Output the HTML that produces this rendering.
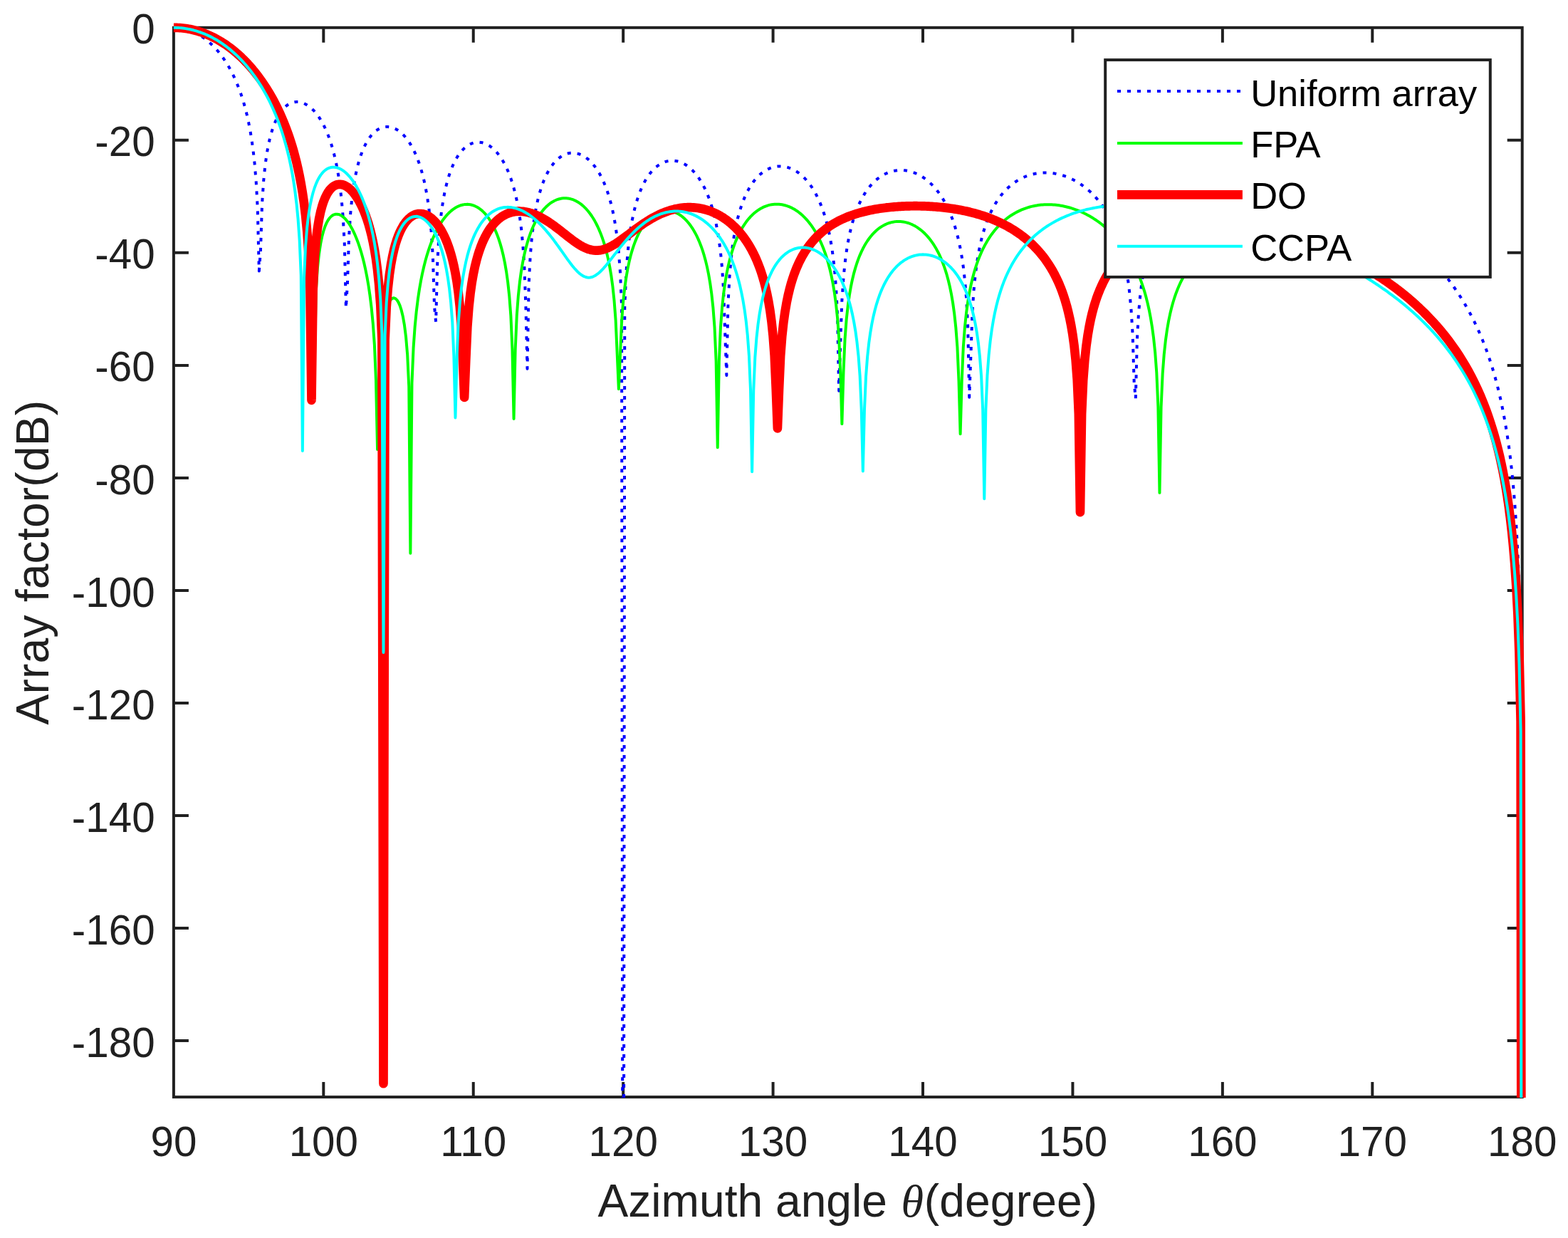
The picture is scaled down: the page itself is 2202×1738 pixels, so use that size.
<!DOCTYPE html>
<html lang="en"><head><meta charset="utf-8"><title>Array factor</title>
<style>html,body{margin:0;padding:0;background:#fff}body{width:2202px;height:1738px;overflow:hidden}svg{display:block}text{font-family:"Liberation Sans",Arial,Helvetica,sans-serif}.t{font-size:58.33px;fill:#202020}.l{font-size:64.17px;fill:#202020}.g{font-size:52.50px;fill:#000}.c{fill:none;stroke-linejoin:round;stroke-linecap:butt}</style></head><body>
<svg width="2202" height="1738" viewBox="0 0 2202 1738">
<rect x="0" y="0" width="2202" height="1738" fill="#fff"/>
<g stroke="#202020" stroke-width="4.00" fill="none" stroke-linecap="butt" stroke-linejoin="miter"><rect x="243.90" y="38.80" width="1893.80" height="1501.30" fill="none"/><path d="M454.32 1540.10 V1519.10 M454.32 38.80 V59.80 M664.74 1540.10 V1519.10 M664.74 38.80 V59.80 M875.17 1540.10 V1519.10 M875.17 38.80 V59.80 M1085.59 1540.10 V1519.10 M1085.59 38.80 V59.80 M1296.01 1540.10 V1519.10 M1296.01 38.80 V59.80 M1506.43 1540.10 V1519.10 M1506.43 38.80 V59.80 M1716.86 1540.10 V1519.10 M1716.86 38.80 V59.80 M1927.28 1540.10 V1519.10 M1927.28 38.80 V59.80 M243.90 1461.08 H264.90 M2137.70 1461.08 H2116.70 M243.90 1303.05 H264.90 M2137.70 1303.05 H2116.70 M243.90 1145.02 H264.90 M2137.70 1145.02 H2116.70 M243.90 986.99 H264.90 M2137.70 986.99 H2116.70 M243.90 828.96 H264.90 M2137.70 828.96 H2116.70 M243.90 670.93 H264.90 M2137.70 670.93 H2116.70 M243.90 512.89 H264.90 M2137.70 512.89 H2116.70 M243.90 354.86 H264.90 M2137.70 354.86 H2116.70 M243.90 196.83 H264.90 M2137.70 196.83 H2116.70"/></g>
<text class="t" x="243.90" y="1622.60" text-anchor="middle">90</text><text class="t" x="454.32" y="1622.60" text-anchor="middle">100</text><text class="t" x="664.74" y="1622.60" text-anchor="middle">110</text><text class="t" x="875.17" y="1622.60" text-anchor="middle">120</text><text class="t" x="1085.59" y="1622.60" text-anchor="middle">130</text><text class="t" x="1296.01" y="1622.60" text-anchor="middle">140</text><text class="t" x="1506.43" y="1622.60" text-anchor="middle">150</text><text class="t" x="1716.86" y="1622.60" text-anchor="middle">160</text><text class="t" x="1927.28" y="1622.60" text-anchor="middle">170</text><text class="t" x="2137.70" y="1622.60" text-anchor="middle">180</text><text class="t" x="217.60" y="61.40" text-anchor="end">0</text><text class="t" x="217.60" y="219.43" text-anchor="end">-20</text><text class="t" x="217.60" y="377.46" text-anchor="end">-40</text><text class="t" x="217.60" y="535.49" text-anchor="end">-60</text><text class="t" x="217.60" y="693.53" text-anchor="end">-80</text><text class="t" x="217.60" y="851.56" text-anchor="end">-100</text><text class="t" x="217.60" y="1009.59" text-anchor="end">-120</text><text class="t" x="217.60" y="1167.62" text-anchor="end">-140</text><text class="t" x="217.60" y="1325.65" text-anchor="end">-160</text><text class="t" x="217.60" y="1483.68" text-anchor="end">-180</text>
<text class="l" x="1190.40" y="1707.60" text-anchor="middle">Azimuth angle <tspan dx="1.6" font-family="'Liberation Serif','DejaVu Serif',serif" font-style="italic">θ</tspan><tspan dx="0.8" letter-spacing="0.15">(degree)</tspan></text>
<text class="l" transform="translate(67.90 1017.60) rotate(-90)" letter-spacing="0.2">Array factor(dB)</text>
<path class="c" d="M243.90 38.80 L246.00 38.83 L248.11 38.94 L250.21 39.11 L252.32 39.35 L254.42 39.66 L256.53 40.04 L258.63 40.49 L260.73 41.01 L262.84 41.60 L264.94 42.27 L267.05 43.00 L269.15 43.81 L271.25 44.70 L273.36 45.66 L275.46 46.70 L277.57 47.82 L279.67 49.02 L281.78 50.30 L283.88 51.66 L285.98 53.11 L288.09 54.65 L290.19 56.29 L292.30 58.01 L294.40 59.83 L296.51 61.76 L298.61 63.79 L300.71 65.92 L302.82 68.17 L304.92 70.54 L307.03 73.03 L309.13 75.66 L311.24 78.42 L313.34 81.32 L315.44 84.39 L317.55 87.61 L319.65 91.01 L321.76 94.60 L323.86 98.40 L325.96 102.42 L328.07 106.68 L330.17 111.20 L332.28 116.03 L334.38 121.18 L336.49 126.71 L338.59 132.66 L340.69 139.10 L342.80 146.12 L344.90 153.81 L347.01 162.33 L349.11 171.88 L351.22 182.73 L353.32 195.33 L355.42 210.37 L357.53 229.12 L359.63 254.15 L361.74 292.41 L363.84 380.56 L365.94 351.55 L368.05 286.06 L370.15 254.16 L372.26 233.23 L374.36 217.83 L376.47 205.79 L378.57 196.02 L380.67 187.89 L382.78 181.01 L384.88 175.12 L386.99 170.03 L389.09 165.62 L391.20 161.77 L393.30 158.41 L395.40 155.49 L397.51 152.96 L399.61 150.77 L401.72 148.90 L403.82 147.32 L405.93 146.02 L408.03 144.96 L410.13 144.14 L412.24 143.55 L414.34 143.18 L416.45 143.02 L418.55 143.06 L420.65 143.29 L422.76 143.73 L424.86 144.36 L426.97 145.17 L429.07 146.19 L431.18 147.39 L433.28 148.80 L435.38 150.40 L437.49 152.21 L439.59 154.23 L441.70 156.48 L443.80 158.96 L445.91 161.68 L448.01 164.66 L450.11 167.92 L452.22 171.49 L454.32 175.38 L456.43 179.63 L458.53 184.29 L460.63 189.40 L462.74 195.02 L464.84 201.24 L466.95 208.17 L469.05 215.95 L471.16 224.78 L473.26 234.95 L475.36 246.89 L477.47 261.32 L479.57 279.50 L481.68 304.07 L483.78 342.16 L485.89 432.58 L487.99 396.52 L490.09 331.96 L492.20 299.84 L494.30 278.49 L496.41 262.63 L498.51 250.10 L500.62 239.83 L502.72 231.21 L504.82 223.84 L506.93 217.46 L509.03 211.89 L511.14 206.99 L513.24 202.67 L515.34 198.85 L517.45 195.46 L519.55 192.47 L521.66 189.83 L523.76 187.51 L525.87 185.49 L527.97 183.74 L530.07 182.24 L532.18 180.99 L534.28 179.97 L536.39 179.17 L538.49 178.57 L540.60 178.18 L542.70 177.99 L544.80 178.00 L546.91 178.20 L549.01 178.58 L551.12 179.16 L553.22 179.93 L555.32 180.89 L557.43 182.04 L559.53 183.40 L561.64 184.96 L563.74 186.73 L565.85 188.72 L567.95 190.94 L570.05 193.40 L572.16 196.12 L574.26 199.11 L576.37 202.40 L578.47 206.02 L580.58 209.98 L582.68 214.34 L584.78 219.15 L586.89 224.45 L588.99 230.33 L591.10 236.90 L593.20 244.28 L595.31 252.67 L597.41 262.32 L599.51 273.64 L601.62 287.27 L603.72 304.32 L605.83 327.02 L607.93 360.98 L610.03 430.37 L612.14 451.77 L614.24 369.05 L616.35 333.03 L618.45 309.87 L620.56 292.89 L622.66 279.57 L624.76 268.69 L626.87 259.55 L628.97 251.72 L631.08 244.94 L633.18 238.99 L635.29 233.74 L637.39 229.09 L639.49 224.94 L641.60 221.24 L643.70 217.94 L645.81 215.00 L647.91 212.38 L650.01 210.06 L652.12 208.01 L654.22 206.21 L656.33 204.66 L658.43 203.33 L660.54 202.22 L662.64 201.31 L664.74 200.61 L666.85 200.09 L668.95 199.77 L671.06 199.63 L673.16 199.67 L675.27 199.89 L677.37 200.29 L679.47 200.87 L681.58 201.63 L683.68 202.57 L685.79 203.70 L687.89 205.02 L690.00 206.54 L692.10 208.26 L694.20 210.19 L696.31 212.34 L698.41 214.73 L700.52 217.36 L702.62 220.26 L704.72 223.45 L706.83 226.95 L708.93 230.79 L711.04 235.01 L713.14 239.66 L715.25 244.80 L717.35 250.49 L719.45 256.84 L721.56 263.96 L723.66 272.05 L725.77 281.33 L727.87 292.19 L729.98 305.18 L732.08 321.30 L734.18 342.46 L736.29 373.17 L738.39 429.90 L740.50 517.73 L742.60 400.01 L744.70 359.23 L746.81 334.11 L748.91 316.01 L751.02 301.94 L753.12 290.49 L755.23 280.90 L757.33 272.70 L759.43 265.57 L761.54 259.32 L763.64 253.78 L765.75 248.86 L767.85 244.45 L769.96 240.49 L772.06 236.94 L774.16 233.75 L776.27 230.88 L778.37 228.30 L780.48 226.00 L782.58 223.95 L784.69 222.13 L786.79 220.54 L788.89 219.16 L791.00 217.97 L793.10 216.98 L795.21 216.17 L797.31 215.53 L799.41 215.08 L801.52 214.79 L803.62 214.67 L805.73 214.71 L807.83 214.92 L809.94 215.29 L812.04 215.82 L814.14 216.52 L816.25 217.39 L818.35 218.42 L820.46 219.63 L822.56 221.02 L824.67 222.59 L826.77 224.36 L828.87 226.32 L830.98 228.50 L833.08 230.90 L835.19 233.53 L837.29 236.42 L839.39 239.58 L841.50 243.05 L843.60 246.84 L845.71 250.99 L847.81 255.56 L849.92 260.59 L852.02 266.15 L854.12 272.34 L856.23 279.27 L858.33 287.11 L860.44 296.08 L862.54 306.53 L864.65 318.95 L866.75 334.24 L868.85 354.00 L870.96 381.90 L873.06 429.59 L874.22 1540.97 M876.11 1540.97 L877.27 429.99 L879.38 382.69 L881.48 355.18 L883.58 335.81 L885.69 320.92 L887.79 308.89 L889.90 298.83 L892.00 290.25 L894.10 282.79 L896.21 276.24 L898.31 270.43 L900.42 265.24 L902.52 260.58 L904.63 256.38 L906.73 252.59 L908.83 249.15 L910.94 246.04 L913.04 243.22 L915.15 240.67 L917.25 238.37 L919.36 236.29 L921.46 234.44 L923.56 232.78 L925.67 231.31 L927.77 230.03 L929.88 228.91 L931.98 227.97 L934.08 227.19 L936.19 226.56 L938.29 226.09 L940.40 225.76 L942.50 225.58 L944.61 225.55 L946.71 225.66 L948.81 225.91 L950.92 226.31 L953.02 226.85 L955.13 227.53 L957.23 228.36 L959.34 229.34 L961.44 230.48 L963.54 231.77 L965.65 233.22 L967.75 234.84 L969.86 236.63 L971.96 238.60 L974.07 240.77 L976.17 243.14 L978.27 245.73 L980.38 248.55 L982.48 251.62 L984.59 254.96 L986.69 258.60 L988.79 262.57 L990.90 266.90 L993.00 271.66 L995.11 276.89 L997.21 282.67 L999.32 289.10 L1001.42 296.31 L1003.52 304.48 L1005.63 313.86 L1007.73 324.84 L1009.84 338.01 L1011.94 354.40 L1014.05 376.05 L1016.15 407.87 L1018.25 468.93 L1020.36 526.89 L1022.46 426.62 L1024.57 387.72 L1026.67 363.23 L1028.77 345.39 L1030.88 331.40 L1032.98 319.94 L1035.09 310.28 L1037.19 301.96 L1039.30 294.69 L1041.40 288.26 L1043.50 282.52 L1045.61 277.37 L1047.71 272.71 L1049.82 268.49 L1051.92 264.65 L1054.03 261.14 L1056.13 257.95 L1058.23 255.02 L1060.34 252.35 L1062.44 249.91 L1064.55 247.68 L1066.65 245.65 L1068.76 243.81 L1070.86 242.15 L1072.96 240.65 L1075.07 239.31 L1077.17 238.12 L1079.28 237.07 L1081.38 236.17 L1083.48 235.40 L1085.59 234.76 L1087.69 234.25 L1089.80 233.86 L1091.90 233.60 L1094.01 233.46 L1096.11 233.44 L1098.21 233.53 L1100.32 233.75 L1102.42 234.08 L1104.53 234.54 L1106.63 235.11 L1108.74 235.80 L1110.84 236.62 L1112.94 237.56 L1115.05 238.62 L1117.15 239.82 L1119.26 241.15 L1121.36 242.62 L1123.46 244.23 L1125.57 245.99 L1127.67 247.91 L1129.78 249.99 L1131.88 252.24 L1133.99 254.68 L1136.09 257.31 L1138.19 260.16 L1140.30 263.23 L1142.40 266.56 L1144.51 270.15 L1146.61 274.05 L1148.72 278.28 L1150.82 282.88 L1152.92 287.92 L1155.03 293.46 L1157.13 299.57 L1159.24 306.38 L1161.34 314.03 L1163.45 322.72 L1165.55 332.76 L1167.65 344.61 L1169.76 359.01 L1171.86 377.32 L1173.97 402.40 L1176.07 442.32 L1178.17 548.68 L1180.28 480.57 L1182.38 421.52 L1184.49 390.41 L1186.59 369.23 L1188.70 353.20 L1190.80 340.35 L1192.90 329.65 L1195.01 320.51 L1197.11 312.57 L1199.22 305.57 L1201.32 299.34 L1203.43 293.73 L1205.53 288.66 L1207.63 284.05 L1209.74 279.84 L1211.84 275.98 L1213.95 272.43 L1216.05 269.17 L1218.15 266.15 L1220.26 263.37 L1222.36 260.80 L1224.47 258.42 L1226.57 256.23 L1228.68 254.20 L1230.78 252.34 L1232.88 250.62 L1234.99 249.04 L1237.09 247.60 L1239.20 246.29 L1241.30 245.10 L1243.41 244.02 L1245.51 243.06 L1247.61 242.20 L1249.72 241.46 L1251.82 240.81 L1253.93 240.26 L1256.03 239.81 L1258.14 239.46 L1260.24 239.20 L1262.34 239.04 L1264.45 238.96 L1266.55 238.98 L1268.66 239.08 L1270.76 239.27 L1272.86 239.56 L1274.97 239.93 L1277.07 240.40 L1279.18 240.95 L1281.28 241.59 L1283.39 242.33 L1285.49 243.16 L1287.59 244.08 L1289.70 245.11 L1291.80 246.23 L1293.91 247.45 L1296.01 248.78 L1298.12 250.21 L1300.22 251.76 L1302.32 253.42 L1304.43 255.21 L1306.53 257.12 L1308.64 259.17 L1310.74 261.35 L1312.84 263.69 L1314.95 266.18 L1317.05 268.85 L1319.16 271.70 L1321.26 274.74 L1323.37 278.00 L1325.47 281.50 L1327.57 285.26 L1329.68 289.30 L1331.78 293.66 L1333.89 298.39 L1335.99 303.54 L1338.10 309.17 L1340.20 315.37 L1342.30 322.24 L1344.41 329.94 L1346.51 338.67 L1348.62 348.72 L1350.72 360.55 L1352.83 374.90 L1354.93 393.08 L1357.03 417.89 L1359.14 457.10 L1361.24 557.66 L1363.35 499.96 L1365.45 439.15 L1367.55 407.55 L1369.66 386.12 L1371.76 369.91 L1373.87 356.91 L1375.97 346.08 L1378.08 336.82 L1380.18 328.76 L1382.28 321.63 L1384.39 315.25 L1386.49 309.50 L1388.60 304.28 L1390.70 299.51 L1392.81 295.13 L1394.91 291.09 L1397.01 287.35 L1399.12 283.88 L1401.22 280.66 L1403.33 277.65 L1405.43 274.84 L1407.53 272.22 L1409.64 269.77 L1411.74 267.47 L1413.85 265.32 L1415.95 263.31 L1418.06 261.42 L1420.16 259.65 L1422.26 258.00 L1424.37 256.45 L1426.47 255.01 L1428.58 253.66 L1430.68 252.41 L1432.79 251.24 L1434.89 250.16 L1436.99 249.16 L1439.10 248.24 L1441.20 247.39 L1443.31 246.62 L1445.41 245.92 L1447.52 245.29 L1449.62 244.72 L1451.72 244.23 L1453.83 243.80 L1455.93 243.43 L1458.04 243.12 L1460.14 242.87 L1462.24 242.69 L1464.35 242.56 L1466.45 242.49 L1468.56 242.48 L1470.66 242.52 L1472.77 242.63 L1474.87 242.78 L1476.97 243.00 L1479.08 243.27 L1481.18 243.60 L1483.29 243.98 L1485.39 244.42 L1487.50 244.91 L1489.60 245.46 L1491.70 246.07 L1493.81 246.73 L1495.91 247.46 L1498.02 248.24 L1500.12 249.08 L1502.22 249.98 L1504.33 250.94 L1506.43 251.96 L1508.54 253.05 L1510.64 254.21 L1512.75 255.43 L1514.85 256.72 L1516.95 258.08 L1519.06 259.51 L1521.16 261.02 L1523.27 262.61 L1525.37 264.28 L1527.48 266.04 L1529.58 267.88 L1531.68 269.82 L1533.79 271.86 L1535.89 274.00 L1538.00 276.25 L1540.10 278.61 L1542.21 281.10 L1544.31 283.72 L1546.41 286.48 L1548.52 289.39 L1550.62 292.47 L1552.73 295.72 L1554.83 299.17 L1556.93 302.84 L1559.04 306.75 L1561.14 310.92 L1563.25 315.39 L1565.35 320.21 L1567.46 325.41 L1569.56 331.06 L1571.66 337.23 L1573.77 344.04 L1575.87 351.62 L1577.98 360.15 L1580.08 369.90 L1582.19 381.26 L1584.29 394.88 L1586.39 411.87 L1588.50 434.44 L1590.60 468.19 L1592.71 537.05 L1594.81 559.52 L1596.91 475.99 L1599.02 439.55 L1601.12 415.98 L1603.23 398.56 L1605.33 384.76 L1607.44 373.35 L1609.54 363.64 L1611.64 355.20 L1613.75 347.75 L1615.85 341.08 L1617.96 335.07 L1620.06 329.59 L1622.17 324.57 L1624.27 319.95 L1626.37 315.67 L1628.48 311.68 L1630.58 307.97 L1632.69 304.49 L1634.79 301.23 L1636.90 298.16 L1639.00 295.26 L1641.10 292.53 L1643.21 289.94 L1645.31 287.49 L1647.42 285.17 L1649.52 282.96 L1651.62 280.86 L1653.73 278.86 L1655.83 276.96 L1657.94 275.15 L1660.04 273.42 L1662.15 271.77 L1664.25 270.20 L1666.35 268.70 L1668.46 267.27 L1670.56 265.90 L1672.67 264.59 L1674.77 263.34 L1676.88 262.15 L1678.98 261.01 L1681.08 259.92 L1683.19 258.88 L1685.29 257.89 L1687.40 256.95 L1689.50 256.05 L1691.60 255.19 L1693.71 254.37 L1695.81 253.60 L1697.92 252.86 L1700.02 252.16 L1702.13 251.49 L1704.23 250.86 L1706.33 250.26 L1708.44 249.70 L1710.54 249.17 L1712.65 248.67 L1714.75 248.20 L1716.86 247.76 L1718.96 247.35 L1721.06 246.96 L1723.17 246.61 L1725.27 246.28 L1727.38 245.98 L1729.48 245.70 L1731.59 245.45 L1733.69 245.22 L1735.79 245.01 L1737.90 244.83 L1740.00 244.68 L1742.11 244.54 L1744.21 244.43 L1746.31 244.34 L1748.42 244.27 L1750.52 244.23 L1752.63 244.20 L1754.73 244.19 L1756.84 244.21 L1758.94 244.24 L1761.04 244.29 L1763.15 244.36 L1765.25 244.45 L1767.36 244.56 L1769.46 244.69 L1771.57 244.84 L1773.67 245.00 L1775.77 245.18 L1777.88 245.38 L1779.98 245.60 L1782.09 245.83 L1784.19 246.08 L1786.29 246.35 L1788.40 246.63 L1790.50 246.93 L1792.61 247.24 L1794.71 247.58 L1796.82 247.92 L1798.92 248.29 L1801.02 248.66 L1803.13 249.06 L1805.23 249.47 L1807.34 249.89 L1809.44 250.33 L1811.55 250.79 L1813.65 251.26 L1815.75 251.74 L1817.86 252.24 L1819.96 252.75 L1822.07 253.28 L1824.17 253.82 L1826.28 254.38 L1828.38 254.95 L1830.48 255.54 L1832.59 256.13 L1834.69 256.75 L1836.80 257.38 L1838.90 258.02 L1841.00 258.67 L1843.11 259.34 L1845.21 260.03 L1847.32 260.72 L1849.42 261.43 L1851.53 262.16 L1853.63 262.90 L1855.73 263.65 L1857.84 264.42 L1859.94 265.20 L1862.05 265.99 L1864.15 266.80 L1866.26 267.62 L1868.36 268.46 L1870.46 269.31 L1872.57 270.18 L1874.67 271.05 L1876.78 271.95 L1878.88 272.85 L1880.98 273.77 L1883.09 274.71 L1885.19 275.66 L1887.30 276.62 L1889.40 277.60 L1891.51 278.59 L1893.61 279.60 L1895.71 280.62 L1897.82 281.65 L1899.92 282.70 L1902.03 283.77 L1904.13 284.85 L1906.24 285.95 L1908.34 287.06 L1910.44 288.19 L1912.55 289.33 L1914.65 290.49 L1916.76 291.66 L1918.86 292.85 L1920.97 294.06 L1923.07 295.28 L1925.17 296.52 L1927.28 297.77 L1929.38 299.05 L1931.49 300.34 L1933.59 301.64 L1935.69 302.97 L1937.80 304.31 L1939.90 305.67 L1942.01 307.05 L1944.11 308.45 L1946.22 309.87 L1948.32 311.30 L1950.42 312.76 L1952.53 314.24 L1954.63 315.73 L1956.74 317.25 L1958.84 318.79 L1960.95 320.34 L1963.05 321.92 L1965.15 323.53 L1967.26 325.15 L1969.36 326.80 L1971.47 328.47 L1973.57 330.17 L1975.67 331.89 L1977.78 333.63 L1979.88 335.40 L1981.99 337.20 L1984.09 339.02 L1986.20 340.87 L1988.30 342.75 L1990.40 344.66 L1992.51 346.60 L1994.61 348.57 L1996.72 350.57 L1998.82 352.60 L2000.93 354.66 L2003.03 356.76 L2005.13 358.89 L2007.24 361.06 L2009.34 363.27 L2011.45 365.51 L2013.55 367.79 L2015.66 370.12 L2017.76 372.48 L2019.86 374.89 L2021.97 377.35 L2024.07 379.85 L2026.18 382.39 L2028.28 384.99 L2030.38 387.64 L2032.49 390.34 L2034.59 393.10 L2036.70 395.92 L2038.80 398.80 L2040.91 401.74 L2043.01 404.74 L2045.11 407.82 L2047.22 410.96 L2049.32 414.18 L2051.43 417.48 L2053.53 420.86 L2055.64 424.33 L2057.74 427.89 L2059.84 431.54 L2061.95 435.30 L2064.05 439.16 L2066.16 443.13 L2068.26 447.22 L2070.36 451.44 L2072.47 455.80 L2074.57 460.29 L2076.68 464.94 L2078.78 469.76 L2080.89 474.75 L2082.99 479.92 L2085.09 485.30 L2087.20 490.90 L2089.30 496.74 L2091.41 502.84 L2093.51 509.23 L2095.62 515.92 L2097.72 522.96 L2099.82 530.38 L2101.93 538.23 L2104.03 546.55 L2106.14 555.41 L2108.24 564.88 L2110.35 575.05 L2112.45 586.03 L2114.55 597.98 L2116.66 611.06 L2118.76 625.52 L2120.87 641.69 L2122.97 660.02 L2125.07 681.18 L2127.18 706.20 L2129.28 736.83 L2131.39 776.32 L2133.49 831.98 L2135.60 927.12 L2136.37 1540.97" stroke="#0000ff" stroke-width="4.00" stroke-dasharray="5 9"/>
<path class="c" d="M243.90 38.80 L246.00 38.82 L248.11 38.88 L250.21 38.98 L252.32 39.13 L254.42 39.31 L256.53 39.54 L258.63 39.81 L260.73 40.11 L262.84 40.46 L264.94 40.86 L267.05 41.29 L269.15 41.76 L271.25 42.28 L273.36 42.84 L275.46 43.44 L277.57 44.09 L279.67 44.78 L281.78 45.51 L283.88 46.28 L285.98 47.10 L288.09 47.96 L290.19 48.87 L292.30 49.82 L294.40 50.82 L296.51 51.87 L298.61 52.96 L300.71 54.09 L302.82 55.28 L304.92 56.51 L307.03 57.79 L309.13 59.11 L311.24 60.49 L313.34 61.92 L315.44 63.40 L317.55 64.93 L319.65 66.51 L321.76 68.15 L323.86 69.84 L325.96 71.58 L328.07 73.38 L330.17 75.24 L332.28 77.16 L334.38 79.13 L336.49 81.17 L338.59 83.26 L340.69 85.42 L342.80 87.65 L344.90 89.94 L347.01 92.30 L349.11 94.73 L351.22 97.23 L353.32 99.80 L355.42 102.45 L357.53 105.17 L359.63 107.98 L361.74 110.87 L363.84 113.85 L365.94 116.91 L368.05 120.07 L370.15 123.32 L372.26 126.67 L374.36 130.13 L376.47 133.69 L378.57 137.37 L380.67 141.17 L382.78 145.09 L384.88 149.15 L386.99 153.34 L389.09 157.69 L391.20 162.19 L393.30 166.86 L395.40 171.71 L397.51 176.76 L399.61 182.01 L401.72 187.49 L403.82 193.22 L405.93 199.23 L408.03 205.53 L410.13 212.18 L412.24 219.20 L414.34 226.66 L416.45 234.61 L418.55 243.13 L420.65 252.34 L422.76 262.38 L424.86 273.43 L426.97 285.79 L429.07 299.85 L431.18 316.30 L433.28 336.32 L435.38 362.31 L437.49 400.53 L439.59 480.48 L441.70 513.68 L443.80 407.84 L445.91 376.22 L448.01 356.47 L450.11 342.59 L452.22 332.24 L454.32 324.27 L456.43 318.04 L458.53 313.12 L460.63 309.26 L462.74 306.26 L464.84 304.00 L466.95 302.37 L469.05 301.31 L471.16 300.75 L473.26 300.65 L475.36 300.98 L477.47 301.71 L479.57 302.83 L481.68 304.32 L483.78 306.18 L485.89 308.40 L487.99 310.98 L490.09 313.93 L492.20 317.25 L494.30 320.96 L496.41 325.09 L498.51 329.65 L500.62 334.67 L502.72 340.21 L504.82 346.31 L506.93 353.04 L509.03 360.50 L511.14 368.80 L513.24 378.11 L515.34 388.66 L517.45 400.78 L519.55 414.99 L521.66 432.17 L523.76 453.96 L525.87 484.00 L527.97 533.97 L530.07 631.02 L532.18 539.36 L534.28 494.80 L536.39 470.22 L538.49 453.97 L540.60 442.41 L542.70 433.95 L544.80 427.75 L546.91 423.32 L549.01 420.37 L551.12 418.74 L553.22 418.32 L555.32 419.10 L557.43 421.09 L559.53 424.40 L561.64 429.18 L563.74 435.73 L565.85 444.53 L567.95 456.42 L570.05 473.00 L572.16 497.91 L574.26 542.77 L576.37 776.81 L578.47 537.95 L580.58 488.24 L582.68 458.44 L584.78 436.88 L586.89 419.90 L588.99 405.86 L591.10 393.89 L593.20 383.47 L595.31 374.25 L597.41 366.00 L599.51 358.56 L601.62 351.80 L603.72 345.63 L605.83 339.97 L607.93 334.77 L610.03 329.97 L612.14 325.54 L614.24 321.45 L616.35 317.67 L618.45 314.17 L620.56 310.94 L622.66 307.96 L624.76 305.22 L626.87 302.70 L628.97 300.39 L631.08 298.28 L633.18 296.37 L635.29 294.65 L637.39 293.11 L639.49 291.74 L641.60 290.55 L643.70 289.53 L645.81 288.68 L647.91 287.99 L650.01 287.47 L652.12 287.10 L654.22 286.90 L656.33 286.87 L658.43 287.00 L660.54 287.29 L662.64 287.75 L664.74 288.39 L666.85 289.20 L668.95 290.19 L671.06 291.37 L673.16 292.75 L675.27 294.33 L677.37 296.12 L679.47 298.14 L681.58 300.40 L683.68 302.92 L685.79 305.72 L687.89 308.83 L690.00 312.26 L692.10 316.06 L694.20 320.28 L696.31 324.97 L698.41 330.19 L700.52 336.05 L702.62 342.65 L704.72 350.16 L706.83 358.82 L708.93 368.94 L711.04 381.06 L713.14 396.03 L715.25 415.49 L717.35 443.09 L719.45 490.49 L721.56 587.96 L723.66 490.30 L725.77 442.72 L727.87 414.93 L729.98 395.29 L732.08 380.13 L734.18 367.82 L736.29 357.50 L738.39 348.65 L740.50 340.94 L742.60 334.13 L744.70 328.07 L746.81 322.63 L748.91 317.73 L751.02 313.29 L753.12 309.26 L755.23 305.59 L757.33 302.24 L759.43 299.20 L761.54 296.42 L763.64 293.89 L765.75 291.60 L767.85 289.52 L769.96 287.65 L772.06 285.96 L774.16 284.47 L776.27 283.15 L778.37 281.99 L780.48 281.00 L782.58 280.17 L784.69 279.49 L786.79 278.96 L788.89 278.58 L791.00 278.35 L793.10 278.26 L795.21 278.31 L797.31 278.50 L799.41 278.84 L801.52 279.32 L803.62 279.95 L805.73 280.72 L807.83 281.64 L809.94 282.72 L812.04 283.95 L814.14 285.34 L816.25 286.90 L818.35 288.64 L820.46 290.56 L822.56 292.67 L824.67 294.98 L826.77 297.50 L828.87 300.26 L830.98 303.26 L833.08 306.54 L835.19 310.10 L837.29 313.99 L839.39 318.24 L841.50 322.89 L843.60 328.01 L845.71 333.65 L847.81 339.91 L849.92 346.92 L852.02 354.83 L854.12 363.87 L856.23 374.37 L858.33 386.86 L860.44 402.21 L862.54 422.03 L864.65 449.98 L866.75 497.73 L868.85 546.08 L870.96 498.22 L873.06 450.97 L875.17 423.52 L877.27 404.19 L879.38 389.35 L881.48 377.36 L883.58 367.35 L885.69 358.81 L887.79 351.40 L889.90 344.89 L892.00 339.13 L894.10 333.98 L896.21 329.37 L898.31 325.22 L900.42 321.47 L902.52 318.09 L904.63 315.03 L906.73 312.26 L908.83 309.77 L910.94 307.52 L913.04 305.50 L915.15 303.70 L917.25 302.11 L919.36 300.71 L921.46 299.49 L923.56 298.46 L925.67 297.59 L927.77 296.89 L929.88 296.35 L931.98 295.97 L934.08 295.74 L936.19 295.67 L938.29 295.75 L940.40 295.98 L942.50 296.36 L944.61 296.90 L946.71 297.59 L948.81 298.44 L950.92 299.44 L953.02 300.62 L955.13 301.96 L957.23 303.48 L959.34 305.18 L961.44 307.08 L963.54 309.18 L965.65 311.49 L967.75 314.03 L969.86 316.82 L971.96 319.87 L974.07 323.22 L976.17 326.89 L978.27 330.92 L980.38 335.35 L982.48 340.23 L984.59 345.65 L986.69 351.68 L988.79 358.44 L990.90 366.11 L993.00 374.91 L995.11 385.16 L997.21 397.40 L999.32 412.48 L1001.42 432.03 L1003.52 459.71 L1005.63 507.18 L1007.73 628.26 L1009.84 507.10 L1011.94 459.56 L1014.05 431.79 L1016.15 412.16 L1018.25 396.99 L1020.36 384.67 L1022.46 374.33 L1024.57 365.44 L1026.67 357.67 L1028.77 350.80 L1030.88 344.65 L1032.98 339.12 L1035.09 334.11 L1037.19 329.55 L1039.30 325.38 L1041.40 321.55 L1043.50 318.04 L1045.61 314.80 L1047.71 311.82 L1049.82 309.08 L1051.92 306.55 L1054.03 304.21 L1056.13 302.06 L1058.23 300.09 L1060.34 298.28 L1062.44 296.62 L1064.55 295.11 L1066.65 293.74 L1068.76 292.51 L1070.86 291.40 L1072.96 290.42 L1075.07 289.56 L1077.17 288.81 L1079.28 288.18 L1081.38 287.66 L1083.48 287.25 L1085.59 286.94 L1087.69 286.74 L1089.80 286.65 L1091.90 286.65 L1094.01 286.76 L1096.11 286.97 L1098.21 287.28 L1100.32 287.70 L1102.42 288.22 L1104.53 288.84 L1106.63 289.56 L1108.74 290.39 L1110.84 291.33 L1112.94 292.38 L1115.05 293.54 L1117.15 294.82 L1119.26 296.21 L1121.36 297.73 L1123.46 299.37 L1125.57 301.14 L1127.67 303.06 L1129.78 305.11 L1131.88 307.32 L1133.99 309.69 L1136.09 312.23 L1138.19 314.95 L1140.30 317.87 L1142.40 321.00 L1144.51 324.35 L1146.61 327.96 L1148.72 331.84 L1150.82 336.03 L1152.92 340.56 L1155.03 345.48 L1157.13 350.85 L1159.24 356.72 L1161.34 363.20 L1163.45 370.41 L1165.55 378.50 L1167.65 387.71 L1169.76 398.37 L1171.86 411.00 L1173.97 426.47 L1176.07 446.40 L1178.17 474.44 L1180.28 522.27 L1182.38 595.07 L1184.49 522.87 L1186.59 475.66 L1188.70 448.22 L1190.80 428.89 L1192.90 414.04 L1195.01 402.01 L1197.11 391.96 L1199.22 383.35 L1201.32 375.86 L1203.43 369.26 L1205.53 363.38 L1207.63 358.11 L1209.74 353.35 L1211.84 349.04 L1213.95 345.11 L1216.05 341.52 L1218.15 338.24 L1220.26 335.23 L1222.36 332.47 L1224.47 329.94 L1226.57 327.62 L1228.68 325.50 L1230.78 323.55 L1232.88 321.78 L1234.99 320.16 L1237.09 318.70 L1239.20 317.38 L1241.30 316.20 L1243.41 315.14 L1245.51 314.22 L1247.61 313.42 L1249.72 312.73 L1251.82 312.16 L1253.93 311.70 L1256.03 311.36 L1258.14 311.12 L1260.24 310.98 L1262.34 310.96 L1264.45 311.03 L1266.55 311.21 L1268.66 311.50 L1270.76 311.89 L1272.86 312.38 L1274.97 312.98 L1277.07 313.69 L1279.18 314.50 L1281.28 315.43 L1283.39 316.47 L1285.49 317.62 L1287.59 318.90 L1289.70 320.30 L1291.80 321.83 L1293.91 323.50 L1296.01 325.30 L1298.12 327.26 L1300.22 329.37 L1302.32 331.64 L1304.43 334.10 L1306.53 336.74 L1308.64 339.60 L1310.74 342.67 L1312.84 345.99 L1314.95 349.58 L1317.05 353.48 L1319.16 357.70 L1321.26 362.31 L1323.37 367.36 L1325.47 372.92 L1327.57 379.07 L1329.68 385.94 L1331.78 393.70 L1333.89 402.56 L1335.99 412.86 L1338.10 425.13 L1340.20 440.22 L1342.30 459.77 L1344.41 487.43 L1346.51 534.86 L1348.62 609.29 L1350.72 534.64 L1352.83 487.00 L1354.93 459.13 L1357.03 439.37 L1359.14 424.06 L1361.24 411.57 L1363.35 401.04 L1365.45 391.95 L1367.55 383.96 L1369.66 376.85 L1371.76 370.46 L1373.87 364.65 L1375.97 359.34 L1378.08 354.47 L1380.18 349.97 L1382.28 345.79 L1384.39 341.91 L1386.49 338.28 L1388.60 334.89 L1390.70 331.71 L1392.81 328.72 L1394.91 325.92 L1397.01 323.27 L1399.12 320.77 L1401.22 318.42 L1403.33 316.20 L1405.43 314.09 L1407.53 312.11 L1409.64 310.23 L1411.74 308.45 L1413.85 306.78 L1415.95 305.19 L1418.06 303.69 L1420.16 302.28 L1422.26 300.94 L1424.37 299.68 L1426.47 298.50 L1428.58 297.38 L1430.68 296.34 L1432.79 295.36 L1434.89 294.44 L1436.99 293.59 L1439.10 292.80 L1441.20 292.06 L1443.31 291.38 L1445.41 290.76 L1447.52 290.19 L1449.62 289.67 L1451.72 289.20 L1453.83 288.79 L1455.93 288.42 L1458.04 288.10 L1460.14 287.83 L1462.24 287.60 L1464.35 287.42 L1466.45 287.29 L1468.56 287.20 L1470.66 287.16 L1472.77 287.15 L1474.87 287.20 L1476.97 287.28 L1479.08 287.41 L1481.18 287.58 L1483.29 287.79 L1485.39 288.04 L1487.50 288.34 L1489.60 288.67 L1491.70 289.05 L1493.81 289.47 L1495.91 289.93 L1498.02 290.43 L1500.12 290.97 L1502.22 291.55 L1504.33 292.18 L1506.43 292.85 L1508.54 293.56 L1510.64 294.31 L1512.75 295.11 L1514.85 295.95 L1516.95 296.83 L1519.06 297.76 L1521.16 298.73 L1523.27 299.75 L1525.37 300.82 L1527.48 301.93 L1529.58 303.09 L1531.68 304.30 L1533.79 305.56 L1535.89 306.88 L1538.00 308.24 L1540.10 309.66 L1542.21 311.14 L1544.31 312.68 L1546.41 314.27 L1548.52 315.92 L1550.62 317.64 L1552.73 319.43 L1554.83 321.28 L1556.93 323.21 L1559.04 325.21 L1561.14 327.29 L1563.25 329.45 L1565.35 331.69 L1567.46 334.03 L1569.56 336.46 L1571.66 339.00 L1573.77 341.64 L1575.87 344.40 L1577.98 347.29 L1580.08 350.30 L1582.19 353.46 L1584.29 356.78 L1586.39 360.26 L1588.50 363.93 L1590.60 367.80 L1592.71 371.90 L1594.81 376.25 L1596.91 380.88 L1599.02 385.83 L1601.12 391.14 L1603.23 396.87 L1605.33 403.09 L1607.44 409.89 L1609.54 417.40 L1611.64 425.77 L1613.75 435.23 L1615.85 446.12 L1617.96 458.95 L1620.06 474.60 L1622.17 494.68 L1624.27 522.87 L1626.37 570.80 L1628.48 691.87 L1630.58 571.57 L1632.69 524.39 L1634.79 496.97 L1636.90 477.65 L1639.00 462.77 L1641.10 450.69 L1643.21 440.57 L1645.31 431.86 L1647.42 424.25 L1649.52 417.50 L1651.62 411.45 L1653.73 405.99 L1655.83 401.01 L1657.94 396.44 L1660.04 392.24 L1662.15 388.35 L1664.25 384.75 L1666.35 381.38 L1668.46 378.25 L1670.56 375.31 L1672.67 372.55 L1674.77 369.96 L1676.88 367.52 L1678.98 365.22 L1681.08 363.04 L1683.19 360.99 L1685.29 359.05 L1687.40 357.21 L1689.50 355.47 L1691.60 353.81 L1693.71 352.25 L1695.81 350.76 L1697.92 349.35 L1700.02 348.01 L1702.13 346.75 L1704.23 345.54 L1706.33 344.40 L1708.44 343.31 L1710.54 342.29 L1712.65 341.31 L1714.75 340.39 L1716.86 339.52 L1718.96 338.69 L1721.06 337.91 L1723.17 337.18 L1725.27 336.49 L1727.38 335.83 L1729.48 335.22 L1731.59 334.65 L1733.69 334.11 L1735.79 333.61 L1737.90 333.14 L1740.00 332.71 L1742.11 332.31 L1744.21 331.94 L1746.31 331.61 L1748.42 331.30 L1750.52 331.02 L1752.63 330.77 L1754.73 330.55 L1756.84 330.36 L1758.94 330.19 L1761.04 330.05 L1763.15 329.94 L1765.25 329.85 L1767.36 329.78 L1769.46 329.74 L1771.57 329.72 L1773.67 329.73 L1775.77 329.76 L1777.88 329.81 L1779.98 329.88 L1782.09 329.97 L1784.19 330.08 L1786.29 330.22 L1788.40 330.37 L1790.50 330.55 L1792.61 330.74 L1794.71 330.96 L1796.82 331.19 L1798.92 331.45 L1801.02 331.72 L1803.13 332.01 L1805.23 332.32 L1807.34 332.64 L1809.44 332.99 L1811.55 333.35 L1813.65 333.73 L1815.75 334.13 L1817.86 334.54 L1819.96 334.97 L1822.07 335.42 L1824.17 335.88 L1826.28 336.36 L1828.38 336.86 L1830.48 337.37 L1832.59 337.90 L1834.69 338.45 L1836.80 339.01 L1838.90 339.59 L1841.00 340.18 L1843.11 340.79 L1845.21 341.42 L1847.32 342.06 L1849.42 342.71 L1851.53 343.38 L1853.63 344.07 L1855.73 344.77 L1857.84 345.49 L1859.94 346.22 L1862.05 346.97 L1864.15 347.73 L1866.26 348.51 L1868.36 349.30 L1870.46 350.11 L1872.57 350.93 L1874.67 351.77 L1876.78 352.62 L1878.88 353.49 L1880.98 354.38 L1883.09 355.28 L1885.19 356.19 L1887.30 357.12 L1889.40 358.07 L1891.51 359.03 L1893.61 360.00 L1895.71 360.99 L1897.82 362.00 L1899.92 363.02 L1902.03 364.06 L1904.13 365.12 L1906.24 366.19 L1908.34 367.27 L1910.44 368.38 L1912.55 369.50 L1914.65 370.63 L1916.76 371.78 L1918.86 372.95 L1920.97 374.14 L1923.07 375.34 L1925.17 376.56 L1927.28 377.80 L1929.38 379.05 L1931.49 380.32 L1933.59 381.61 L1935.69 382.92 L1937.80 384.25 L1939.90 385.60 L1942.01 386.96 L1944.11 388.34 L1946.22 389.75 L1948.32 391.17 L1950.42 392.61 L1952.53 394.07 L1954.63 395.56 L1956.74 397.06 L1958.84 398.59 L1960.95 400.14 L1963.05 401.71 L1965.15 403.30 L1967.26 404.91 L1969.36 406.55 L1971.47 408.22 L1973.57 409.90 L1975.67 411.61 L1977.78 413.35 L1979.88 415.11 L1981.99 416.90 L1984.09 418.72 L1986.20 420.56 L1988.30 422.44 L1990.40 424.34 L1992.51 426.27 L1994.61 428.23 L1996.72 430.23 L1998.82 432.25 L2000.93 434.31 L2003.03 436.41 L2005.13 438.53 L2007.24 440.70 L2009.34 442.90 L2011.45 445.14 L2013.55 447.42 L2015.66 449.74 L2017.76 452.10 L2019.86 454.51 L2021.97 456.96 L2024.07 459.45 L2026.18 462.00 L2028.28 464.59 L2030.38 467.24 L2032.49 469.94 L2034.59 472.70 L2036.70 475.51 L2038.80 478.39 L2040.91 481.33 L2043.01 484.33 L2045.11 487.40 L2047.22 490.55 L2049.32 493.77 L2051.43 497.06 L2053.53 500.44 L2055.64 503.91 L2057.74 507.47 L2059.84 511.12 L2061.95 514.87 L2064.05 518.73 L2066.16 522.71 L2068.26 526.80 L2070.36 531.02 L2072.47 535.37 L2074.57 539.87 L2076.68 544.52 L2078.78 549.33 L2080.89 554.32 L2082.99 559.50 L2085.09 564.88 L2087.20 570.48 L2089.30 576.32 L2091.41 582.42 L2093.51 588.80 L2095.62 595.50 L2097.72 602.53 L2099.82 609.95 L2101.93 617.80 L2104.03 626.12 L2106.14 634.98 L2108.24 644.45 L2110.35 654.62 L2112.45 665.60 L2114.55 677.55 L2116.66 690.63 L2118.76 705.09 L2120.87 721.26 L2122.97 739.59 L2125.07 760.75 L2127.18 785.77 L2129.28 816.40 L2131.39 855.89 L2133.49 911.55 L2135.60 1006.69 L2136.30 1540.97" stroke="#00ff00" stroke-width="4.00"/>
<path class="c" d="M243.90 38.80 L246.00 38.82 L248.11 38.88 L250.21 38.97 L252.32 39.10 L254.42 39.28 L256.53 39.49 L258.63 39.73 L260.73 40.02 L262.84 40.35 L264.94 40.71 L267.05 41.11 L269.15 41.55 L271.25 42.03 L273.36 42.55 L275.46 43.11 L277.57 43.71 L279.67 44.35 L281.78 45.03 L283.88 45.75 L285.98 46.51 L288.09 47.32 L290.19 48.16 L292.30 49.04 L294.40 49.97 L296.51 50.94 L298.61 51.96 L300.71 53.01 L302.82 54.12 L304.92 55.26 L307.03 56.45 L309.13 57.69 L311.24 58.97 L313.34 60.30 L315.44 61.68 L317.55 63.11 L319.65 64.58 L321.76 66.11 L323.86 67.69 L325.96 69.32 L328.07 71.00 L330.17 72.73 L332.28 74.52 L334.38 76.37 L336.49 78.27 L338.59 80.24 L340.69 82.26 L342.80 84.34 L344.90 86.49 L347.01 88.70 L349.11 90.98 L351.22 93.33 L353.32 95.75 L355.42 98.24 L357.53 100.81 L359.63 103.46 L361.74 106.18 L363.84 108.99 L365.94 111.89 L368.05 114.88 L370.15 117.96 L372.26 121.14 L374.36 124.43 L376.47 127.83 L378.57 131.34 L380.67 134.97 L382.78 138.72 L384.88 142.62 L386.99 146.66 L389.09 150.85 L391.20 155.20 L393.30 159.74 L395.40 164.47 L397.51 169.40 L399.61 174.56 L401.72 179.97 L403.82 185.66 L405.93 191.66 L408.03 198.00 L410.13 204.73 L412.24 211.90 L414.34 219.60 L416.45 227.91 L418.55 236.95 L420.65 246.89 L422.76 257.95 L424.86 270.48 L426.97 284.98 L429.07 302.33 L431.18 324.16 L433.28 354.12 L435.38 403.88 L437.49 561.88 L439.59 408.41 L441.70 363.18 L443.80 337.75 L445.91 320.47 L448.01 307.67 L450.11 297.73 L452.22 289.79 L454.32 283.34 L456.43 278.03 L458.53 273.64 L460.63 270.01 L462.74 267.03 L464.84 264.61 L466.95 262.67 L469.05 261.17 L471.16 260.07 L473.26 259.32 L475.36 258.91 L477.47 258.82 L479.57 259.03 L481.68 259.52 L483.78 260.29 L485.89 261.33 L487.99 262.64 L490.09 264.21 L492.20 266.06 L494.30 268.17 L496.41 270.57 L498.51 273.25 L500.62 276.24 L502.72 279.54 L504.82 283.19 L506.93 287.20 L509.03 291.61 L511.14 296.46 L513.24 301.81 L515.34 307.73 L517.45 314.29 L519.55 321.63 L521.66 329.91 L523.76 339.34 L525.87 350.26 L527.97 363.19 L530.07 379.00 L532.18 399.31 L534.28 427.77 L536.39 476.06 L538.49 1521.14 L540.60 477.69 L542.70 431.05 L544.80 404.21 L546.91 385.53 L549.01 371.36 L551.12 360.05 L553.22 350.75 L555.32 342.94 L557.43 336.28 L559.53 330.55 L561.64 325.58 L563.74 321.25 L565.85 317.49 L567.95 314.20 L570.05 311.35 L572.16 308.88 L574.26 306.77 L576.37 304.98 L578.47 303.49 L580.58 302.28 L582.68 301.33 L584.78 300.64 L586.89 300.19 L588.99 299.98 L591.10 299.99 L593.20 300.23 L595.31 300.69 L597.41 301.37 L599.51 302.28 L601.62 303.40 L603.72 304.75 L605.83 306.34 L607.93 308.17 L610.03 310.24 L612.14 312.58 L614.24 315.20 L616.35 318.11 L618.45 321.34 L620.56 324.92 L622.66 328.88 L624.76 333.27 L626.87 338.13 L628.97 343.54 L631.08 349.59 L633.18 356.39 L635.29 364.12 L637.39 372.98 L639.49 383.32 L641.60 395.66 L643.70 410.86 L645.81 430.54 L647.91 458.37 L650.01 505.99 L652.12 557.93 L654.22 506.26 L656.33 458.91 L658.43 431.35 L660.54 411.93 L662.64 396.99 L664.74 384.90 L666.85 374.79 L668.95 366.15 L671.06 358.65 L673.16 352.04 L675.27 346.17 L677.37 340.92 L679.47 336.19 L681.58 331.92 L683.68 328.05 L685.79 324.53 L687.89 321.33 L690.00 318.41 L692.10 315.75 L694.20 313.33 L696.31 311.12 L698.41 309.12 L700.52 307.30 L702.62 305.66 L704.72 304.18 L706.83 302.86 L708.93 301.69 L711.04 300.65 L713.14 299.75 L715.25 298.97 L717.35 298.32 L719.45 297.78 L721.56 297.35 L723.66 297.03 L725.77 296.81 L727.87 296.70 L729.98 296.68 L732.08 296.75 L734.18 296.92 L736.29 297.17 L738.39 297.51 L740.50 297.93 L742.60 298.43 L744.70 299.02 L746.81 299.68 L748.91 300.41 L751.02 301.21 L753.12 302.09 L755.23 303.03 L757.33 304.04 L759.43 305.11 L761.54 306.25 L763.64 307.44 L765.75 308.69 L767.85 309.99 L769.96 311.34 L772.06 312.75 L774.16 314.19 L776.27 315.68 L778.37 317.21 L780.48 318.76 L782.58 320.35 L784.69 321.97 L786.79 323.60 L788.89 325.25 L791.00 326.91 L793.10 328.58 L795.21 330.24 L797.31 331.90 L799.41 333.53 L801.52 335.15 L803.62 336.74 L805.73 338.29 L807.83 339.79 L809.94 341.24 L812.04 342.62 L814.14 343.94 L816.25 345.17 L818.35 346.32 L820.46 347.37 L822.56 348.32 L824.67 349.16 L826.77 349.89 L828.87 350.49 L830.98 350.98 L833.08 351.33 L835.19 351.55 L837.29 351.64 L839.39 351.59 L841.50 351.42 L843.60 351.11 L845.71 350.68 L847.81 350.13 L849.92 349.46 L852.02 348.67 L854.12 347.78 L856.23 346.80 L858.33 345.72 L860.44 344.56 L862.54 343.33 L864.65 342.02 L866.75 340.66 L868.85 339.25 L870.96 337.79 L873.06 336.29 L875.17 334.77 L877.27 333.22 L879.38 331.65 L881.48 330.07 L883.58 328.49 L885.69 326.91 L887.79 325.33 L889.90 323.76 L892.00 322.20 L894.10 320.66 L896.21 319.15 L898.31 317.65 L900.42 316.18 L902.52 314.74 L904.63 313.33 L906.73 311.96 L908.83 310.62 L910.94 309.31 L913.04 308.05 L915.15 306.82 L917.25 305.64 L919.36 304.50 L921.46 303.40 L923.56 302.34 L925.67 301.33 L927.77 300.36 L929.88 299.44 L931.98 298.57 L934.08 297.74 L936.19 296.96 L938.29 296.23 L940.40 295.55 L942.50 294.91 L944.61 294.33 L946.71 293.79 L948.81 293.30 L950.92 292.86 L953.02 292.47 L955.13 292.13 L957.23 291.84 L959.34 291.60 L961.44 291.41 L963.54 291.27 L965.65 291.19 L967.75 291.15 L969.86 291.17 L971.96 291.24 L974.07 291.36 L976.17 291.54 L978.27 291.77 L980.38 292.05 L982.48 292.39 L984.59 292.78 L986.69 293.23 L988.79 293.74 L990.90 294.30 L993.00 294.92 L995.11 295.60 L997.21 296.35 L999.32 297.15 L1001.42 298.01 L1003.52 298.94 L1005.63 299.94 L1007.73 301.00 L1009.84 302.14 L1011.94 303.34 L1014.05 304.61 L1016.15 305.96 L1018.25 307.39 L1020.36 308.90 L1022.46 310.50 L1024.57 312.18 L1026.67 313.95 L1028.77 315.81 L1030.88 317.78 L1032.98 319.85 L1035.09 322.02 L1037.19 324.32 L1039.30 326.74 L1041.40 329.29 L1043.50 331.98 L1045.61 334.82 L1047.71 337.83 L1049.82 341.01 L1051.92 344.38 L1054.03 347.96 L1056.13 351.78 L1058.23 355.85 L1060.34 360.21 L1062.44 364.89 L1064.55 369.95 L1066.65 375.43 L1068.76 381.40 L1070.86 387.97 L1072.96 395.24 L1075.07 403.38 L1077.17 412.62 L1079.28 423.29 L1081.38 435.91 L1083.48 451.34 L1085.59 471.23 L1087.69 499.21 L1089.80 546.95 L1091.90 601.39 L1094.01 547.34 L1096.11 499.98 L1098.21 472.39 L1100.32 452.89 L1102.42 437.83 L1104.53 425.59 L1106.63 415.29 L1108.74 406.43 L1110.84 398.66 L1112.94 391.75 L1115.05 385.54 L1117.15 379.92 L1119.26 374.79 L1121.36 370.08 L1123.46 365.72 L1125.57 361.69 L1127.67 357.94 L1129.78 354.43 L1131.88 351.15 L1133.99 348.06 L1136.09 345.16 L1138.19 342.43 L1140.30 339.84 L1142.40 337.40 L1144.51 335.08 L1146.61 332.88 L1148.72 330.80 L1150.82 328.81 L1152.92 326.92 L1155.03 325.12 L1157.13 323.41 L1159.24 321.77 L1161.34 320.21 L1163.45 318.71 L1165.55 317.29 L1167.65 315.92 L1169.76 314.62 L1171.86 313.37 L1173.97 312.17 L1176.07 311.03 L1178.17 309.93 L1180.28 308.88 L1182.38 307.88 L1184.49 306.91 L1186.59 305.99 L1188.70 305.11 L1190.80 304.26 L1192.90 303.44 L1195.01 302.66 L1197.11 301.92 L1199.22 301.20 L1201.32 300.51 L1203.43 299.86 L1205.53 299.23 L1207.63 298.62 L1209.74 298.05 L1211.84 297.50 L1213.95 296.97 L1216.05 296.46 L1218.15 295.98 L1220.26 295.52 L1222.36 295.07 L1224.47 294.65 L1226.57 294.25 L1228.68 293.87 L1230.78 293.51 L1232.88 293.16 L1234.99 292.83 L1237.09 292.52 L1239.20 292.22 L1241.30 291.94 L1243.41 291.68 L1245.51 291.43 L1247.61 291.19 L1249.72 290.97 L1251.82 290.77 L1253.93 290.57 L1256.03 290.40 L1258.14 290.23 L1260.24 290.08 L1262.34 289.94 L1264.45 289.81 L1266.55 289.70 L1268.66 289.60 L1270.76 289.51 L1272.86 289.43 L1274.97 289.37 L1277.07 289.31 L1279.18 289.27 L1281.28 289.24 L1283.39 289.22 L1285.49 289.22 L1287.59 289.22 L1289.70 289.24 L1291.80 289.27 L1293.91 289.31 L1296.01 289.36 L1298.12 289.43 L1300.22 289.51 L1302.32 289.59 L1304.43 289.69 L1306.53 289.81 L1308.64 289.93 L1310.74 290.07 L1312.84 290.22 L1314.95 290.38 L1317.05 290.56 L1319.16 290.74 L1321.26 290.95 L1323.37 291.16 L1325.47 291.39 L1327.57 291.63 L1329.68 291.88 L1331.78 292.15 L1333.89 292.44 L1335.99 292.73 L1338.10 293.05 L1340.20 293.37 L1342.30 293.72 L1344.41 294.08 L1346.51 294.45 L1348.62 294.84 L1350.72 295.25 L1352.83 295.67 L1354.93 296.11 L1357.03 296.57 L1359.14 297.05 L1361.24 297.54 L1363.35 298.06 L1365.45 298.59 L1367.55 299.14 L1369.66 299.71 L1371.76 300.30 L1373.87 300.91 L1375.97 301.55 L1378.08 302.20 L1380.18 302.88 L1382.28 303.58 L1384.39 304.30 L1386.49 305.05 L1388.60 305.82 L1390.70 306.62 L1392.81 307.44 L1394.91 308.29 L1397.01 309.17 L1399.12 310.08 L1401.22 311.01 L1403.33 311.97 L1405.43 312.97 L1407.53 313.99 L1409.64 315.05 L1411.74 316.14 L1413.85 317.27 L1415.95 318.43 L1418.06 319.63 L1420.16 320.87 L1422.26 322.15 L1424.37 323.47 L1426.47 324.83 L1428.58 326.24 L1430.68 327.69 L1432.79 329.19 L1434.89 330.74 L1436.99 332.35 L1439.10 334.01 L1441.20 335.73 L1443.31 337.51 L1445.41 339.35 L1447.52 341.26 L1449.62 343.24 L1451.72 345.29 L1453.83 347.43 L1455.93 349.65 L1458.04 351.95 L1460.14 354.36 L1462.24 356.86 L1464.35 359.48 L1466.45 362.21 L1468.56 365.07 L1470.66 368.07 L1472.77 371.21 L1474.87 374.53 L1476.97 378.02 L1479.08 381.71 L1481.18 385.61 L1483.29 389.77 L1485.39 394.20 L1487.50 398.95 L1489.60 404.05 L1491.70 409.57 L1493.81 415.58 L1495.91 422.16 L1498.02 429.44 L1500.12 437.58 L1502.22 446.81 L1504.33 457.46 L1506.43 470.06 L1508.54 485.46 L1510.64 505.30 L1512.75 533.24 L1514.85 580.92 L1516.95 719.13 L1519.06 581.17 L1521.16 533.73 L1523.27 506.05 L1525.37 486.46 L1527.48 471.30 L1529.58 458.96 L1531.68 448.55 L1533.79 439.57 L1535.89 431.68 L1538.00 424.65 L1540.10 418.31 L1542.21 412.56 L1544.31 407.29 L1546.41 402.43 L1548.52 397.93 L1550.62 393.75 L1552.73 389.84 L1554.83 386.18 L1556.93 382.73 L1559.04 379.49 L1561.14 376.42 L1563.25 373.52 L1565.35 370.77 L1567.46 368.16 L1569.56 365.67 L1571.66 363.30 L1573.77 361.04 L1575.87 358.88 L1577.98 356.81 L1580.08 354.84 L1582.19 352.94 L1584.29 351.13 L1586.39 349.39 L1588.50 347.72 L1590.60 346.12 L1592.71 344.59 L1594.81 343.11 L1596.91 341.69 L1599.02 340.32 L1601.12 339.01 L1603.23 337.75 L1605.33 336.53 L1607.44 335.36 L1609.54 334.24 L1611.64 333.16 L1613.75 332.12 L1615.85 331.12 L1617.96 330.16 L1620.06 329.23 L1622.17 328.34 L1624.27 327.48 L1626.37 326.66 L1628.48 325.87 L1630.58 325.12 L1632.69 324.39 L1634.79 323.69 L1636.90 323.02 L1639.00 322.38 L1641.10 321.77 L1643.21 321.18 L1645.31 320.62 L1647.42 320.09 L1649.52 319.58 L1651.62 319.09 L1653.73 318.63 L1655.83 318.19 L1657.94 317.77 L1660.04 317.38 L1662.15 317.00 L1664.25 316.65 L1666.35 316.32 L1668.46 316.01 L1670.56 315.72 L1672.67 315.45 L1674.77 315.20 L1676.88 314.96 L1678.98 314.75 L1681.08 314.56 L1683.19 314.38 L1685.29 314.22 L1687.40 314.08 L1689.50 313.95 L1691.60 313.84 L1693.71 313.75 L1695.81 313.68 L1697.92 313.62 L1700.02 313.57 L1702.13 313.55 L1704.23 313.53 L1706.33 313.54 L1708.44 313.56 L1710.54 313.59 L1712.65 313.64 L1714.75 313.70 L1716.86 313.78 L1718.96 313.87 L1721.06 313.97 L1723.17 314.09 L1725.27 314.23 L1727.38 314.37 L1729.48 314.54 L1731.59 314.71 L1733.69 314.90 L1735.79 315.10 L1737.90 315.31 L1740.00 315.54 L1742.11 315.78 L1744.21 316.03 L1746.31 316.29 L1748.42 316.57 L1750.52 316.86 L1752.63 317.16 L1754.73 317.47 L1756.84 317.80 L1758.94 318.14 L1761.04 318.48 L1763.15 318.85 L1765.25 319.22 L1767.36 319.60 L1769.46 320.00 L1771.57 320.41 L1773.67 320.83 L1775.77 321.26 L1777.88 321.70 L1779.98 322.16 L1782.09 322.62 L1784.19 323.10 L1786.29 323.59 L1788.40 324.09 L1790.50 324.60 L1792.61 325.12 L1794.71 325.65 L1796.82 326.20 L1798.92 326.75 L1801.02 327.32 L1803.13 327.89 L1805.23 328.48 L1807.34 329.08 L1809.44 329.69 L1811.55 330.31 L1813.65 330.94 L1815.75 331.59 L1817.86 332.24 L1819.96 332.90 L1822.07 333.58 L1824.17 334.26 L1826.28 334.96 L1828.38 335.67 L1830.48 336.39 L1832.59 337.12 L1834.69 337.86 L1836.80 338.61 L1838.90 339.38 L1841.00 340.15 L1843.11 340.94 L1845.21 341.73 L1847.32 342.54 L1849.42 343.36 L1851.53 344.19 L1853.63 345.03 L1855.73 345.88 L1857.84 346.75 L1859.94 347.62 L1862.05 348.51 L1864.15 349.41 L1866.26 350.32 L1868.36 351.24 L1870.46 352.17 L1872.57 353.12 L1874.67 354.08 L1876.78 355.05 L1878.88 356.03 L1880.98 357.02 L1883.09 358.03 L1885.19 359.04 L1887.30 360.08 L1889.40 361.12 L1891.51 362.18 L1893.61 363.24 L1895.71 364.33 L1897.82 365.42 L1899.92 366.53 L1902.03 367.65 L1904.13 368.79 L1906.24 369.93 L1908.34 371.10 L1910.44 372.27 L1912.55 373.46 L1914.65 374.67 L1916.76 375.89 L1918.86 377.12 L1920.97 378.37 L1923.07 379.64 L1925.17 380.92 L1927.28 382.21 L1929.38 383.52 L1931.49 384.85 L1933.59 386.19 L1935.69 387.55 L1937.80 388.93 L1939.90 390.32 L1942.01 391.73 L1944.11 393.16 L1946.22 394.61 L1948.32 396.07 L1950.42 397.55 L1952.53 399.06 L1954.63 400.58 L1956.74 402.12 L1958.84 403.68 L1960.95 405.26 L1963.05 406.86 L1965.15 408.49 L1967.26 410.13 L1969.36 411.80 L1971.47 413.49 L1973.57 415.21 L1975.67 416.94 L1977.78 418.71 L1979.88 420.49 L1981.99 422.31 L1984.09 424.14 L1986.20 426.01 L1988.30 427.90 L1990.40 429.82 L1992.51 431.77 L1994.61 433.75 L1996.72 435.77 L1998.82 437.81 L2000.93 439.88 L2003.03 441.99 L2005.13 444.13 L2007.24 446.31 L2009.34 448.53 L2011.45 450.78 L2013.55 453.07 L2015.66 455.40 L2017.76 457.77 L2019.86 460.19 L2021.97 462.65 L2024.07 465.16 L2026.18 467.71 L2028.28 470.31 L2030.38 472.97 L2032.49 475.67 L2034.59 478.44 L2036.70 481.26 L2038.80 484.14 L2040.91 487.08 L2043.01 490.09 L2045.11 493.17 L2047.22 496.32 L2049.32 499.54 L2051.43 502.84 L2053.53 506.23 L2055.64 509.70 L2057.74 513.26 L2059.84 516.91 L2061.95 520.67 L2064.05 524.53 L2066.16 528.51 L2068.26 532.60 L2070.36 536.82 L2072.47 541.18 L2074.57 545.67 L2076.68 550.33 L2078.78 555.14 L2080.89 560.13 L2082.99 565.31 L2085.09 570.69 L2087.20 576.29 L2089.30 582.13 L2091.41 588.23 L2093.51 594.62 L2095.62 601.31 L2097.72 608.35 L2099.82 615.77 L2101.93 623.62 L2104.03 631.94 L2106.14 640.80 L2108.24 650.26 L2110.35 660.44 L2112.45 671.42 L2114.55 683.37 L2116.66 696.45 L2118.76 710.91 L2120.87 727.08 L2122.97 745.41 L2125.07 766.57 L2127.18 791.59 L2129.28 822.22 L2131.39 861.71 L2133.49 917.37 L2135.60 1012.51 L2136.30 1540.97" stroke="#ff0000" stroke-width="12.70"/>
<path class="c" d="M243.90 38.80 L246.00 38.82 L248.11 38.88 L250.21 38.98 L252.32 39.13 L254.42 39.31 L256.53 39.54 L258.63 39.80 L260.73 40.11 L262.84 40.46 L264.94 40.85 L267.05 41.29 L269.15 41.76 L271.25 42.28 L273.36 42.84 L275.46 43.44 L277.57 44.09 L279.67 44.78 L281.78 45.51 L283.88 46.29 L285.98 47.11 L288.09 47.97 L290.19 48.89 L292.30 49.84 L294.40 50.85 L296.51 51.90 L298.61 53.00 L300.71 54.14 L302.82 55.34 L304.92 56.58 L307.03 57.87 L309.13 59.22 L311.24 60.61 L313.34 62.06 L315.44 63.57 L317.55 65.12 L319.65 66.74 L321.76 68.40 L323.86 70.13 L325.96 71.92 L328.07 73.76 L330.17 75.67 L332.28 77.64 L334.38 79.68 L336.49 81.79 L338.59 83.96 L340.69 86.20 L342.80 88.52 L344.90 90.91 L347.01 93.38 L349.11 95.93 L351.22 98.57 L353.32 101.29 L355.42 104.10 L357.53 107.01 L359.63 110.01 L361.74 113.12 L363.84 116.34 L365.94 119.67 L368.05 123.12 L370.15 126.70 L372.26 130.41 L374.36 134.27 L376.47 138.27 L378.57 142.45 L380.67 146.79 L382.78 151.33 L384.88 156.08 L386.99 161.05 L389.09 166.27 L391.20 171.76 L393.30 177.56 L395.40 183.71 L397.51 190.24 L399.61 197.21 L401.72 204.71 L403.82 212.81 L405.93 221.64 L408.03 231.36 L410.13 242.21 L412.24 254.51 L414.34 268.79 L416.45 285.91 L418.55 307.51 L420.65 337.24 L422.76 386.75 L424.86 633.00 L426.97 390.78 L429.07 345.29 L431.18 319.60 L433.28 302.04 L435.38 288.97 L437.49 278.74 L439.59 270.51 L441.70 263.75 L443.80 258.12 L445.91 253.41 L448.01 249.45 L450.11 246.12 L452.22 243.34 L454.32 241.02 L456.43 239.13 L458.53 237.62 L460.63 236.45 L462.74 235.59 L464.84 235.03 L466.95 234.74 L469.05 234.70 L471.16 234.92 L473.26 235.37 L475.36 236.06 L477.47 236.96 L479.57 238.09 L481.68 239.44 L483.78 241.00 L485.89 242.79 L487.99 244.79 L490.09 247.02 L492.20 249.49 L494.30 252.20 L496.41 255.15 L498.51 258.38 L500.62 261.88 L502.72 265.68 L504.82 269.80 L506.93 274.27 L509.03 279.13 L511.14 284.42 L513.24 290.20 L515.34 296.53 L517.45 303.50 L519.55 311.24 L521.66 319.90 L523.76 329.72 L525.87 341.02 L527.97 354.33 L530.07 370.52 L532.18 391.20 L534.28 420.04 L536.39 468.70 L538.49 915.88 L540.60 471.09 L542.70 424.81 L544.80 398.36 L546.91 380.07 L549.01 366.28 L551.12 355.36 L553.22 346.46 L555.32 339.06 L557.43 332.81 L559.53 327.50 L561.64 322.96 L563.74 319.08 L565.85 315.77 L567.95 312.96 L570.05 310.59 L572.16 308.62 L574.26 307.03 L576.37 305.78 L578.47 304.85 L580.58 304.23 L582.68 303.90 L584.78 303.85 L586.89 304.09 L588.99 304.59 L591.10 305.37 L593.20 306.42 L595.31 307.74 L597.41 309.35 L599.51 311.25 L601.62 313.46 L603.72 315.98 L605.83 318.85 L607.93 322.09 L610.03 325.72 L612.14 329.80 L614.24 334.38 L616.35 339.52 L618.45 345.31 L620.56 351.87 L622.66 359.36 L624.76 368.01 L626.87 378.15 L628.97 390.29 L631.08 405.31 L633.18 424.82 L635.29 452.48 L637.39 499.95 L639.49 586.38 L641.60 499.95 L643.70 452.47 L645.81 424.79 L647.91 405.26 L650.01 390.22 L652.12 378.04 L654.22 367.85 L656.33 359.13 L658.43 351.55 L660.54 344.88 L662.64 338.96 L664.74 333.66 L666.85 328.89 L668.95 324.59 L671.06 320.70 L673.16 317.16 L675.27 313.95 L677.37 311.03 L679.47 308.38 L681.58 305.97 L683.68 303.79 L685.79 301.82 L687.89 300.04 L690.00 298.45 L692.10 297.03 L694.20 295.78 L696.31 294.69 L698.41 293.74 L700.52 292.94 L702.62 292.27 L704.72 291.74 L706.83 291.33 L708.93 291.05 L711.04 290.89 L713.14 290.84 L715.25 290.91 L717.35 291.09 L719.45 291.38 L721.56 291.77 L723.66 292.27 L725.77 292.88 L727.87 293.58 L729.98 294.39 L732.08 295.29 L734.18 296.29 L736.29 297.39 L738.39 298.59 L740.50 299.88 L742.60 301.26 L744.70 302.74 L746.81 304.31 L748.91 305.97 L751.02 307.72 L753.12 309.56 L755.23 311.49 L757.33 313.51 L759.43 315.62 L761.54 317.81 L763.64 320.08 L765.75 322.44 L767.85 324.87 L769.96 327.39 L772.06 329.97 L774.16 332.63 L776.27 335.35 L778.37 338.13 L780.48 340.97 L782.58 343.85 L784.69 346.78 L786.79 349.73 L788.89 352.71 L791.00 355.70 L793.10 358.68 L795.21 361.64 L797.31 364.57 L799.41 367.44 L801.52 370.24 L803.62 372.94 L805.73 375.52 L807.83 377.96 L809.94 380.23 L812.04 382.31 L814.14 384.17 L816.25 385.78 L818.35 387.14 L820.46 388.21 L822.56 389.00 L824.67 389.47 L826.77 389.64 L828.87 389.49 L830.98 389.04 L833.08 388.29 L835.19 387.27 L837.29 385.97 L839.39 384.44 L841.50 382.68 L843.60 380.72 L845.71 378.59 L847.81 376.32 L849.92 373.92 L852.02 371.42 L854.12 368.84 L856.23 366.20 L858.33 363.52 L860.44 360.81 L862.54 358.09 L864.65 355.38 L866.75 352.68 L868.85 350.00 L870.96 347.36 L873.06 344.76 L875.17 342.20 L877.27 339.70 L879.38 337.25 L881.48 334.86 L883.58 332.54 L885.69 330.28 L887.79 328.10 L889.90 325.98 L892.00 323.93 L894.10 321.96 L896.21 320.06 L898.31 318.24 L900.42 316.48 L902.52 314.81 L904.63 313.20 L906.73 311.68 L908.83 310.22 L910.94 308.84 L913.04 307.54 L915.15 306.31 L917.25 305.15 L919.36 304.07 L921.46 303.06 L923.56 302.12 L925.67 301.26 L927.77 300.47 L929.88 299.75 L931.98 299.10 L934.08 298.53 L936.19 298.03 L938.29 297.60 L940.40 297.24 L942.50 296.95 L944.61 296.74 L946.71 296.60 L948.81 296.53 L950.92 296.54 L953.02 296.62 L955.13 296.77 L957.23 297.00 L959.34 297.30 L961.44 297.68 L963.54 298.14 L965.65 298.68 L967.75 299.30 L969.86 299.99 L971.96 300.77 L974.07 301.64 L976.17 302.58 L978.27 303.62 L980.38 304.75 L982.48 305.97 L984.59 307.28 L986.69 308.69 L988.79 310.21 L990.90 311.83 L993.00 313.55 L995.11 315.39 L997.21 317.36 L999.32 319.44 L1001.42 321.66 L1003.52 324.01 L1005.63 326.51 L1007.73 329.16 L1009.84 331.98 L1011.94 334.98 L1014.05 338.17 L1016.15 341.57 L1018.25 345.19 L1020.36 349.06 L1022.46 353.20 L1024.57 357.64 L1026.67 362.43 L1028.77 367.60 L1030.88 373.21 L1032.98 379.34 L1035.09 386.06 L1037.19 393.52 L1039.30 401.86 L1041.40 411.32 L1043.50 422.22 L1045.61 435.09 L1047.71 450.80 L1049.82 470.98 L1051.92 499.27 L1054.03 547.34 L1056.13 662.23 L1058.23 548.45 L1060.34 501.48 L1062.44 474.30 L1064.55 455.23 L1066.65 440.63 L1068.76 428.86 L1070.86 419.07 L1072.96 410.73 L1075.07 403.50 L1077.17 397.17 L1079.28 391.56 L1081.38 386.56 L1083.48 382.08 L1085.59 378.05 L1087.69 374.40 L1089.80 371.10 L1091.90 368.11 L1094.01 365.41 L1096.11 362.95 L1098.21 360.73 L1100.32 358.72 L1102.42 356.92 L1104.53 355.30 L1106.63 353.85 L1108.74 352.58 L1110.84 351.46 L1112.94 350.49 L1115.05 349.67 L1117.15 348.98 L1119.26 348.43 L1121.36 348.02 L1123.46 347.73 L1125.57 347.56 L1127.67 347.52 L1129.78 347.60 L1131.88 347.80 L1133.99 348.12 L1136.09 348.56 L1138.19 349.12 L1140.30 349.79 L1142.40 350.59 L1144.51 351.52 L1146.61 352.56 L1148.72 353.74 L1150.82 355.04 L1152.92 356.48 L1155.03 358.06 L1157.13 359.78 L1159.24 361.66 L1161.34 363.69 L1163.45 365.88 L1165.55 368.25 L1167.65 370.81 L1169.76 373.57 L1171.86 376.54 L1173.97 379.75 L1176.07 383.20 L1178.17 386.94 L1180.28 390.98 L1182.38 395.37 L1184.49 400.15 L1186.59 405.37 L1188.70 411.11 L1190.80 417.45 L1192.90 424.53 L1195.01 432.49 L1197.11 441.56 L1199.22 452.09 L1201.32 464.59 L1203.43 479.92 L1205.53 499.72 L1207.63 527.63 L1209.74 575.33 L1211.84 661.44 L1213.95 575.67 L1216.05 528.32 L1218.15 500.75 L1220.26 481.29 L1222.36 466.30 L1224.47 454.14 L1226.57 443.95 L1228.68 435.21 L1230.78 427.58 L1232.88 420.84 L1234.99 414.82 L1237.09 409.40 L1239.20 404.50 L1241.30 400.04 L1243.41 395.96 L1245.51 392.22 L1247.61 388.79 L1249.72 385.62 L1251.82 382.71 L1253.93 380.02 L1256.03 377.54 L1258.14 375.25 L1260.24 373.13 L1262.34 371.19 L1264.45 369.40 L1266.55 367.76 L1268.66 366.26 L1270.76 364.89 L1272.86 363.66 L1274.97 362.54 L1277.07 361.54 L1279.18 360.66 L1281.28 359.88 L1283.39 359.22 L1285.49 358.65 L1287.59 358.20 L1289.70 357.84 L1291.80 357.58 L1293.91 357.42 L1296.01 357.36 L1298.12 357.40 L1300.22 357.53 L1302.32 357.76 L1304.43 358.09 L1306.53 358.52 L1308.64 359.04 L1310.74 359.67 L1312.84 360.40 L1314.95 361.24 L1317.05 362.18 L1319.16 363.24 L1321.26 364.41 L1323.37 365.70 L1325.47 367.11 L1327.57 368.66 L1329.68 370.34 L1331.78 372.16 L1333.89 374.13 L1335.99 376.27 L1338.10 378.58 L1340.20 381.07 L1342.30 383.77 L1344.41 386.68 L1346.51 389.84 L1348.62 393.26 L1350.72 396.98 L1352.83 401.03 L1354.93 405.45 L1357.03 410.31 L1359.14 415.67 L1361.24 421.63 L1363.35 428.29 L1365.45 435.84 L1367.55 444.49 L1369.66 454.57 L1371.76 466.61 L1373.87 481.47 L1375.97 500.79 L1378.08 528.21 L1380.18 575.39 L1382.28 700.16 L1384.39 574.67 L1386.49 526.77 L1388.60 498.63 L1390.70 478.59 L1392.81 463.00 L1394.91 450.24 L1397.01 439.42 L1399.12 430.03 L1401.22 421.74 L1403.33 414.33 L1405.43 407.62 L1407.53 401.49 L1409.64 395.86 L1411.74 390.65 L1413.85 385.81 L1415.95 381.29 L1418.06 377.06 L1420.16 373.08 L1422.26 369.32 L1424.37 365.77 L1426.47 362.41 L1428.58 359.21 L1430.68 356.17 L1432.79 353.28 L1434.89 350.52 L1436.99 347.88 L1439.10 345.35 L1441.20 342.94 L1443.31 340.62 L1445.41 338.40 L1447.52 336.27 L1449.62 334.22 L1451.72 332.25 L1453.83 330.36 L1455.93 328.54 L1458.04 326.78 L1460.14 325.09 L1462.24 323.46 L1464.35 321.89 L1466.45 320.38 L1468.56 318.92 L1470.66 317.52 L1472.77 316.16 L1474.87 314.85 L1476.97 313.59 L1479.08 312.37 L1481.18 311.19 L1483.29 310.06 L1485.39 308.96 L1487.50 307.90 L1489.60 306.88 L1491.70 305.90 L1493.81 304.95 L1495.91 304.04 L1498.02 303.16 L1500.12 302.31 L1502.22 301.49 L1504.33 300.70 L1506.43 299.94 L1508.54 299.21 L1510.64 298.51 L1512.75 297.83 L1514.85 297.18 L1516.95 296.56 L1519.06 295.96 L1521.16 295.39 L1523.27 294.84 L1525.37 294.31 L1527.48 293.81 L1529.58 293.33 L1531.68 292.87 L1533.79 292.43 L1535.89 292.01 L1538.00 291.62 L1540.10 291.24 L1542.21 290.88 L1544.31 290.54 L1546.41 290.22 L1548.52 289.92 L1550.62 289.64 L1552.73 289.38 L1554.83 289.13 L1556.93 288.90 L1559.04 288.68 L1561.14 288.49 L1563.25 288.30 L1565.35 288.14 L1567.46 287.99 L1569.56 287.85 L1571.66 287.73 L1573.77 287.63 L1575.87 287.54 L1577.98 287.46 L1580.08 287.40 L1582.19 287.35 L1584.29 287.31 L1586.39 287.29 L1588.50 287.28 L1590.60 287.29 L1592.71 287.30 L1594.81 287.33 L1596.91 287.37 L1599.02 287.43 L1601.12 287.49 L1603.23 287.57 L1605.33 287.66 L1607.44 287.76 L1609.54 287.87 L1611.64 287.99 L1613.75 288.13 L1615.85 288.27 L1617.96 288.43 L1620.06 288.59 L1622.17 288.77 L1624.27 288.95 L1626.37 289.15 L1628.48 289.36 L1630.58 289.57 L1632.69 289.80 L1634.79 290.03 L1636.90 290.28 L1639.00 290.53 L1641.10 290.79 L1643.21 291.07 L1645.31 291.35 L1647.42 291.64 L1649.52 291.94 L1651.62 292.24 L1653.73 292.56 L1655.83 292.88 L1657.94 293.22 L1660.04 293.56 L1662.15 293.91 L1664.25 294.26 L1666.35 294.63 L1668.46 295.00 L1670.56 295.38 L1672.67 295.77 L1674.77 296.17 L1676.88 296.58 L1678.98 296.99 L1681.08 297.41 L1683.19 297.83 L1685.29 298.27 L1687.40 298.71 L1689.50 299.16 L1691.60 299.62 L1693.71 300.08 L1695.81 300.55 L1697.92 301.03 L1700.02 301.51 L1702.13 302.00 L1704.23 302.50 L1706.33 303.01 L1708.44 303.52 L1710.54 304.04 L1712.65 304.57 L1714.75 305.10 L1716.86 305.64 L1718.96 306.18 L1721.06 306.73 L1723.17 307.29 L1725.27 307.86 L1727.38 308.43 L1729.48 309.01 L1731.59 309.59 L1733.69 310.19 L1735.79 310.78 L1737.90 311.39 L1740.00 312.00 L1742.11 312.62 L1744.21 313.24 L1746.31 313.87 L1748.42 314.50 L1750.52 315.15 L1752.63 315.80 L1754.73 316.45 L1756.84 317.11 L1758.94 317.78 L1761.04 318.45 L1763.15 319.13 L1765.25 319.82 L1767.36 320.51 L1769.46 321.21 L1771.57 321.92 L1773.67 322.63 L1775.77 323.35 L1777.88 324.08 L1779.98 324.81 L1782.09 325.54 L1784.19 326.29 L1786.29 327.04 L1788.40 327.80 L1790.50 328.56 L1792.61 329.33 L1794.71 330.11 L1796.82 330.89 L1798.92 331.68 L1801.02 332.48 L1803.13 333.28 L1805.23 334.09 L1807.34 334.91 L1809.44 335.73 L1811.55 336.56 L1813.65 337.40 L1815.75 338.24 L1817.86 339.10 L1819.96 339.95 L1822.07 340.82 L1824.17 341.69 L1826.28 342.57 L1828.38 343.46 L1830.48 344.36 L1832.59 345.26 L1834.69 346.17 L1836.80 347.08 L1838.90 348.01 L1841.00 348.94 L1843.11 349.88 L1845.21 350.83 L1847.32 351.79 L1849.42 352.75 L1851.53 353.72 L1853.63 354.70 L1855.73 355.69 L1857.84 356.69 L1859.94 357.70 L1862.05 358.71 L1864.15 359.73 L1866.26 360.76 L1868.36 361.81 L1870.46 362.86 L1872.57 363.91 L1874.67 364.98 L1876.78 366.06 L1878.88 367.15 L1880.98 368.24 L1883.09 369.35 L1885.19 370.47 L1887.30 371.59 L1889.40 372.73 L1891.51 373.88 L1893.61 375.04 L1895.71 376.20 L1897.82 377.38 L1899.92 378.57 L1902.03 379.78 L1904.13 380.99 L1906.24 382.21 L1908.34 383.45 L1910.44 384.70 L1912.55 385.96 L1914.65 387.23 L1916.76 388.52 L1918.86 389.82 L1920.97 391.13 L1923.07 392.45 L1925.17 393.79 L1927.28 395.14 L1929.38 396.51 L1931.49 397.89 L1933.59 399.28 L1935.69 400.70 L1937.80 402.12 L1939.90 403.56 L1942.01 405.02 L1944.11 406.49 L1946.22 407.98 L1948.32 409.49 L1950.42 411.01 L1952.53 412.55 L1954.63 414.11 L1956.74 415.69 L1958.84 417.29 L1960.95 418.90 L1963.05 420.54 L1965.15 422.19 L1967.26 423.87 L1969.36 425.57 L1971.47 427.28 L1973.57 429.03 L1975.67 430.79 L1977.78 432.58 L1979.88 434.39 L1981.99 436.22 L1984.09 438.09 L1986.20 439.97 L1988.30 441.89 L1990.40 443.83 L1992.51 445.80 L1994.61 447.80 L1996.72 449.82 L1998.82 451.88 L2000.93 453.97 L2003.03 456.10 L2005.13 458.25 L2007.24 460.45 L2009.34 462.67 L2011.45 464.94 L2013.55 467.24 L2015.66 469.58 L2017.76 471.97 L2019.86 474.39 L2021.97 476.86 L2024.07 479.38 L2026.18 481.94 L2028.28 484.55 L2030.38 487.21 L2032.49 489.93 L2034.59 492.70 L2036.70 495.53 L2038.80 498.41 L2040.91 501.36 L2043.01 504.38 L2045.11 507.46 L2047.22 510.61 L2049.32 513.84 L2051.43 517.15 L2053.53 520.53 L2055.64 524.01 L2057.74 527.57 L2059.84 531.23 L2061.95 534.99 L2064.05 538.85 L2066.16 542.83 L2068.26 546.93 L2070.36 551.15 L2072.47 555.51 L2074.57 560.01 L2076.68 564.66 L2078.78 569.47 L2080.89 574.47 L2082.99 579.64 L2085.09 585.03 L2087.20 590.63 L2089.30 596.47 L2091.41 602.57 L2093.51 608.96 L2095.62 615.65 L2097.72 622.69 L2099.82 630.11 L2101.93 637.96 L2104.03 646.28 L2106.14 655.14 L2108.24 664.61 L2110.35 674.78 L2112.45 685.77 L2114.55 697.71 L2116.66 710.79 L2118.76 725.25 L2120.87 741.42 L2122.97 759.75 L2125.07 780.91 L2127.18 805.93 L2129.28 836.56 L2131.39 876.05 L2133.49 931.71 L2135.60 1026.85 L2136.28 1540.97" stroke="#00ffff" stroke-width="4.00"/>
<rect x="1552.20" y="84.10" width="540.60" height="304.80" fill="#fff" stroke="#202020" stroke-width="4.00"/>
<path d="M1569.00 128.00 H1744.90" fill="none" stroke="#0000ff" stroke-width="4.00" stroke-dasharray="5 9"/>
<text class="g" x="1756.20" y="148.70">Uniform array</text>
<path d="M1569.00 201.00 H1744.90" fill="none" stroke="#00ff00" stroke-width="4.00"/>
<text class="g" x="1756.20" y="220.70">FPA</text>
<path d="M1569.00 273.30 H1744.90" fill="none" stroke="#ff0000" stroke-width="12.70"/>
<text class="g" x="1756.20" y="293.40">DO</text>
<path d="M1569.00 345.80 H1744.90" fill="none" stroke="#00ffff" stroke-width="4.00"/>
<text class="g" x="1756.20" y="366.00">CCPA</text>
</svg></body></html>
